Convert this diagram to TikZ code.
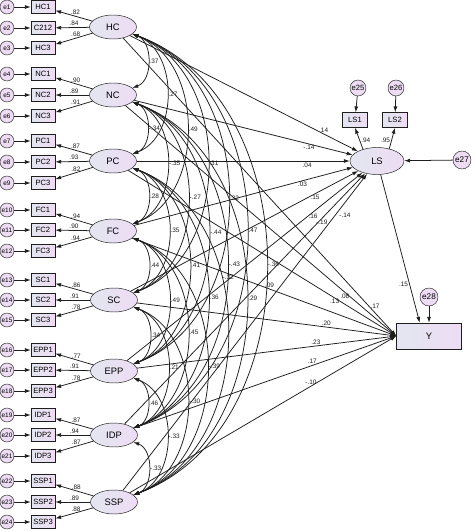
\documentclass[tikz,border=0pt]{standalone}
\usepackage{fontspec}
\setmainfont{Liberation Sans}
\usetikzlibrary{shapes.geometric, arrows.meta}
\definecolor{shadeL}{HTML}{E3E6F0}
\definecolor{shadeR}{HTML}{EEDCF4}
\definecolor{ink}{HTML}{1E1E1E}
\tikzstyle{latent} = [ellipse, draw=ink, left color=shadeL, right color=shadeR, minimum width=1.41cm, minimum height=0.72cm, inner sep=0pt, font=\fontsize{8}{9}\selectfont]
\tikzstyle{indic} = [rectangle, draw=ink, left color=shadeL, right color=shadeR, minimum width=0.72cm, minimum height=0.39cm, inner sep=1pt, font=\fontsize{6.5}{7}\selectfont]
\tikzstyle{err} = [circle, draw=ink, fill=shadeR, minimum size=0.42cm, inner sep=0pt, font=\fontsize{5.5}{6}\selectfont]
\tikzstyle{arrow} = [line width=0.65pt, draw=ink, ->, >={Latex[length=5pt,width=3.4pt]}]
\tikzstyle{cov} = [line width=0.65pt, draw=ink, <->, >={Latex[length=5pt,width=3.4pt]}, bend left=70, looseness=1.05]
\tikzstyle{coef} = [font=\fontsize{5.5}{6}\selectfont, inner sep=1pt, text=ink]

\begin{document}
\begin{tikzpicture}[x=0.03cm, y=0.03cm]
    \useasboundingbox (0,0) rectangle (474,-531);

    % latent factors
    \node [latent] at (113,-27) (HC) {HC};
    \node [latent] at (113,-95) (NC) {NC};
    \node [latent] at (113,-161) (PC) {PC};
    \node [latent] at (113,-231) (FC) {FC};
    \node [latent] at (114,-300) (SC) {SC};
    \node [latent] at (114,-371) (EPP) {EPP};
    \node [latent] at (114,-435) (IDP) {IDP};
    \node [latent] at (114,-502) (SSP) {SSP};

    % indicators
    \node [indic] at (43,-7) (HC1) {HC1};
    \node [indic] at (43,-28) (HC2) {C212};
    \node [indic] at (43,-48) (HC3) {HC3};
    \node [indic] at (43,-74) (NC1) {NC1};
    \node [indic] at (43,-95) (NC2) {NC2};
    \node [indic] at (43,-116) (NC3) {NC3};
    \node [indic] at (43,-141) (PC1) {PC1};
    \node [indic] at (43,-162) (PC2) {PC2};
    \node [indic] at (43,-183) (PC3) {PC3};
    \node [indic] at (43,-210) (FC1) {FC1};
    \node [indic] at (43,-230) (FC2) {FC2};
    \node [indic] at (43,-251) (FC3) {FC3};
    \node [indic] at (43,-280) (SC1) {SC1};
    \node [indic] at (43,-300) (SC2) {SC2};
    \node [indic] at (43,-320) (SC3) {SC3};
    \node [indic] at (43,-350) (EPP1) {EPP1};
    \node [indic] at (43,-370) (EPP2) {EPP2};
    \node [indic] at (43,-391) (EPP3) {EPP3};
    \node [indic] at (43,-415) (IDP1) {IDP1};
    \node [indic] at (43,-435) (IDP2) {IDP2};
    \node [indic] at (43,-456) (IDP3) {IDP3};
    \node [indic] at (43,-481) (SSP1) {SSP1};
    \node [indic] at (43,-502) (SSP2) {SSP2};
    \node [indic] at (43,-522) (SSP3) {SSP3};

    % error terms
    \node [err] at (7,-7) (e1) {e1};
    \node [err] at (7,-28) (e2) {e2};
    \node [err] at (7,-48) (e3) {e3};
    \node [err] at (7,-74) (e4) {e4};
    \node [err] at (7,-95) (e5) {e5};
    \node [err] at (7,-116) (e6) {e6};
    \node [err] at (7,-141) (e7) {e7};
    \node [err] at (7,-162) (e8) {e8};
    \node [err] at (7,-183) (e9) {e9};
    \node [err] at (7,-210) (e10) {e10};
    \node [err] at (7,-230) (e11) {e11};
    \node [err] at (7,-251) (e12) {e12};
    \node [err] at (7,-280) (e13) {e13};
    \node [err] at (7,-300) (e14) {e14};
    \node [err] at (7,-320) (e15) {e15};
    \node [err] at (7,-350) (e16) {e16};
    \node [err] at (7,-370) (e17) {e17};
    \node [err] at (7,-391) (e18) {e18};
    \node [err] at (7,-415) (e19) {e19};
    \node [err] at (7,-435) (e20) {e20};
    \node [err] at (7,-456) (e21) {e21};
    \node [err] at (7,-481) (e22) {e22};
    \node [err] at (7,-502) (e23) {e23};
    \node [err] at (7,-522) (e24) {e24};

    % mediator and outcome
    \node [latent, minimum width=1.62cm, minimum height=0.81cm] at (377,-161) (LS) {LS};
    \node [indic, minimum width=0.75cm, minimum height=0.45cm] at (355,-120) (LS1) {LS1};
    \node [indic, minimum width=0.75cm, minimum height=0.45cm] at (395,-120) (LS2) {LS2};
    \node [err, minimum size=0.48cm, font=\fontsize{6.5}{7}\selectfont] at (358,-88) (e25) {e25};
    \node [err, minimum size=0.48cm, font=\fontsize{6.5}{7}\selectfont] at (396,-88) (e26) {e26};
    \node [err, minimum size=0.54cm, font=\fontsize{7}{8}\selectfont] at (462,-160) (e27) {e27};
    \node [indic, minimum width=1.95cm, minimum height=0.78cm, font=\fontsize{8}{9}\selectfont] at (429,-336) (Y) {Y};
    \node [err, minimum size=0.54cm, font=\fontsize{7}{8}\selectfont] at (429,-297) (e28) {e28};

    % errors to indicators
    \draw [arrow] (e1) -- (HC1);
    \draw [arrow] (e2) -- (HC2);
    \draw [arrow] (e3) -- (HC3);
    \draw [arrow] (e4) -- (NC1);
    \draw [arrow] (e5) -- (NC2);
    \draw [arrow] (e6) -- (NC3);
    \draw [arrow] (e7) -- (PC1);
    \draw [arrow] (e8) -- (PC2);
    \draw [arrow] (e9) -- (PC3);
    \draw [arrow] (e10) -- (FC1);
    \draw [arrow] (e11) -- (FC2);
    \draw [arrow] (e12) -- (FC3);
    \draw [arrow] (e13) -- (SC1);
    \draw [arrow] (e14) -- (SC2);
    \draw [arrow] (e15) -- (SC3);
    \draw [arrow] (e16) -- (EPP1);
    \draw [arrow] (e17) -- (EPP2);
    \draw [arrow] (e18) -- (EPP3);
    \draw [arrow] (e19) -- (IDP1);
    \draw [arrow] (e20) -- (IDP2);
    \draw [arrow] (e21) -- (IDP3);
    \draw [arrow] (e22) -- (SSP1);
    \draw [arrow] (e23) -- (SSP2);
    \draw [arrow] (e24) -- (SSP3);

    % loadings
    \draw [arrow] (HC) -- node[coef, above, pos=0.45] {.82} (HC1);
    \draw [arrow] (HC) -- node[coef, above, pos=0.45] {.84} (HC2);
    \draw [arrow] (HC) -- node[coef, above, pos=0.45] {.68} (HC3);
    \draw [arrow] (NC) -- node[coef, above, pos=0.45] {.90} (NC1);
    \draw [arrow] (NC) -- node[coef, above, pos=0.45] {.89} (NC2);
    \draw [arrow] (NC) -- node[coef, above, pos=0.45] {.91} (NC3);
    \draw [arrow] (PC) -- node[coef, above, pos=0.45] {.87} (PC1);
    \draw [arrow] (PC) -- node[coef, above, pos=0.45] {.93} (PC2);
    \draw [arrow] (PC) -- node[coef, above, pos=0.45] {.82} (PC3);
    \draw [arrow] (FC) -- node[coef, above, pos=0.45] {.94} (FC1);
    \draw [arrow] (FC) -- node[coef, above, pos=0.45] {.90} (FC2);
    \draw [arrow] (FC) -- node[coef, above, pos=0.45] {.94} (FC3);
    \draw [arrow] (SC) -- node[coef, above, pos=0.45] {.86} (SC1);
    \draw [arrow] (SC) -- node[coef, above, pos=0.45] {.91} (SC2);
    \draw [arrow] (SC) -- node[coef, above, pos=0.45] {.78} (SC3);
    \draw [arrow] (EPP) -- node[coef, above, pos=0.45] {.77} (EPP1);
    \draw [arrow] (EPP) -- node[coef, above, pos=0.45] {.91} (EPP2);
    \draw [arrow] (EPP) -- node[coef, above, pos=0.45] {.78} (EPP3);
    \draw [arrow] (IDP) -- node[coef, above, pos=0.45] {.87} (IDP1);
    \draw [arrow] (IDP) -- node[coef, above, pos=0.45] {.94} (IDP2);
    \draw [arrow] (IDP) -- node[coef, above, pos=0.45] {.87} (IDP3);
    \draw [arrow] (SSP) -- node[coef, above, pos=0.45] {.88} (SSP1);
    \draw [arrow] (SSP) -- node[coef, above, pos=0.45] {.89} (SSP2);
    \draw [arrow] (SSP) -- node[coef, above, pos=0.45] {.88} (SSP3);

    % covariances
    \draw [cov] (HC) to node[coef, right] {.37} (NC);
    \draw [cov] (HC) to node[coef, right] {.27} (PC);
    \draw [cov] (HC) to node[coef, right] {.49} (FC);
    \draw [cov] (HC) to node[coef, right] {.31} (SC);
    \draw [cov] (HC) to node[coef, right] {.32} (EPP);
    \draw [cov] (HC) to node[coef, right] {.47} (IDP);
    \draw [cov] (HC) to node[coef, right] {-.36} (SSP);
    \draw [cov] (NC) to node[coef, right] {-.34} (PC);
    \draw [cov] (NC) to node[coef, right] {-.35} (FC);
    \draw [cov] (NC) to node[coef, right] {-.27} (SC);
    \draw [cov] (NC) to node[coef, right] {-.44} (EPP);
    \draw [cov] (NC) to node[coef, right] {-.43} (IDP);
    \draw [cov] (NC) to node[coef, right] {.29} (SSP);
    \draw [cov] (PC) to node[coef, right] {.28} (FC);
    \draw [cov] (PC) to node[coef, right] {.35} (SC);
    \draw [cov] (PC) to node[coef, right] {.41} (EPP);
    \draw [cov] (PC) to node[coef, right] {.36} (IDP);
    \draw [cov] (PC) to node[coef, right, pos=0.37] {-.32} (SSP);
    \draw [cov] (FC) to node[coef, right] {.44} (SC);
    \draw [cov] (FC) to node[coef, right] {.49} (EPP);
    \draw [cov] (FC) to node[coef, right] {.45} (IDP);
    \draw [cov] (FC) to node[coef, right] {-.39} (SSP);
    \draw [cov] (SC) to node[coef, right] {.34} (EPP);
    \draw [cov] (SC) to node[coef, right] {.21} (IDP);
    \draw [cov] (SC) to node[coef, right] {-.30} (SSP);
    \draw [cov] (EPP) to node[coef, right] {.46} (IDP);
    \draw [cov] (EPP) to node[coef, right] {-.33} (SSP);
    \draw [cov] (IDP) to node[coef, right] {-.33} (SSP);

    % paths to LS
    \draw [arrow] (HC) -- node[coef, above, pos=0.85] {.14} (LS);
    \draw [arrow] (NC) -- node[coef, below, pos=0.80] {-.14} (LS);
    \draw [arrow] (PC) -- node[coef, below, pos=0.80] {.04} (LS);
    \draw [arrow] (FC) -- node[coef, below, pos=0.77] {.03} (LS);
    \draw [arrow] (SC) -- node[coef, below, pos=0.81] {.15} (LS);
    \draw [arrow] (EPP) -- node[coef, below, pos=0.79] {.16} (LS);
    \draw [arrow] (IDP) -- node[coef, below, pos=0.82] {-.19} (LS);
    \draw [arrow] (SSP) -- node[coef, below right, pos=0.88] {-.14} (LS);

    % paths to Y
    \draw [arrow] (HC) -- node[coef, right, pos=0.9] {.17} (Y.west);
    \draw [arrow] (NC) -- node[coef, below, pos=0.81] {.08} (Y.west);
    \draw [arrow] (PC) -- node[coef, below, pos=0.77] {.13} (Y.west);
    \draw [arrow] (FC) -- node[coef, above, pos=0.52] {.09} (Y.west);
    \draw [arrow] (SC) -- node[coef, above, pos=0.73] {.20} (Y.west);
    \draw [arrow] (EPP) -- node[coef, above, pos=0.69] {.23} (Y.west);
    \draw [arrow] (IDP) -- node[coef, above, pos=0.68] {.17} (Y.west);
    \draw [arrow] (SSP) -- node[coef, above, pos=0.68] {-.10} (Y.west);

    % LS block
    \draw [arrow] (e25) -- (LS1);
    \draw [arrow] (e26) -- (LS2);
    \draw [arrow] (LS.140) -- node[coef, right, pos=0.4] {.94} (LS1.south);
    \draw [arrow] (LS.45) -- node[coef, left, pos=0.4] {.95} (LS2.south);
    \draw [arrow] (e27) -- (LS);
    \draw [arrow] (LS.285) -- node[coef, left, pos=0.74] {.15} (Y.125);
    \draw [arrow] (e28) -- (Y);
\end{tikzpicture}
\end{document}
